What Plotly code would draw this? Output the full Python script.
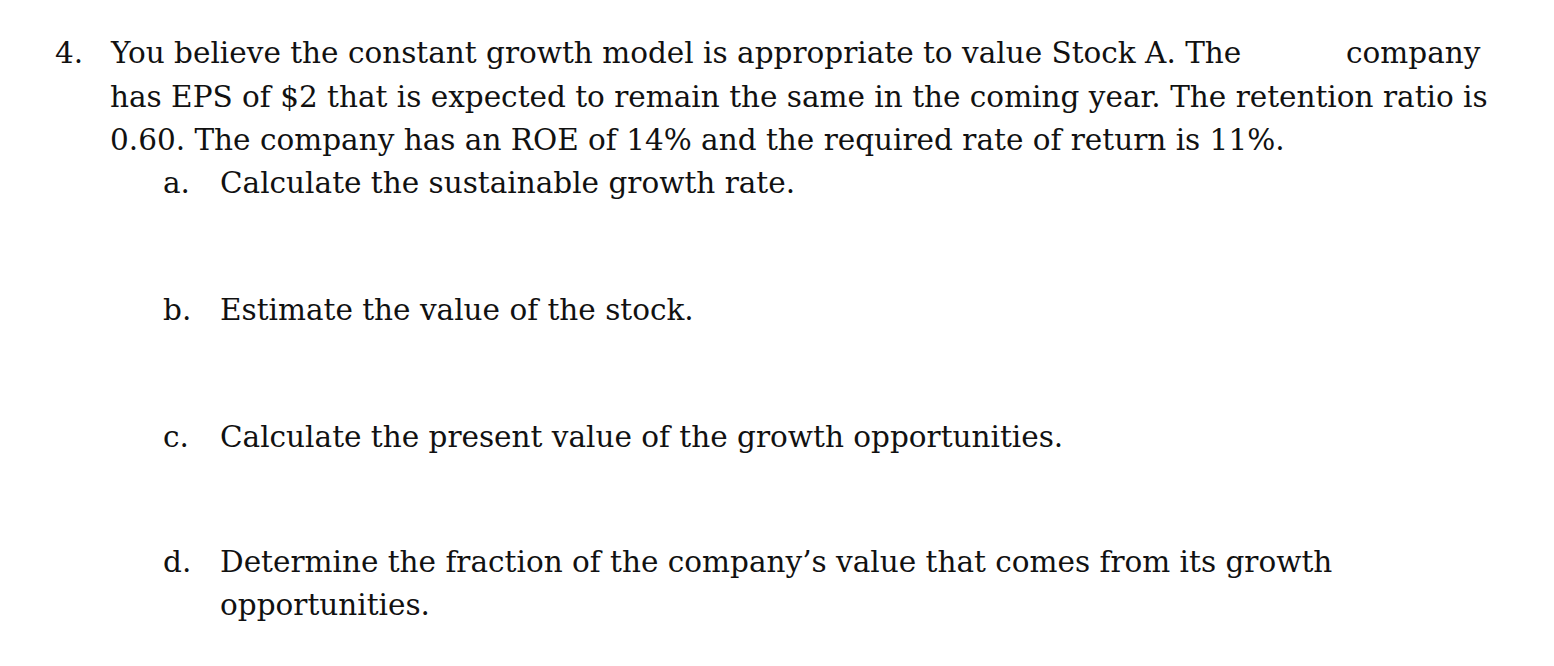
import plotly.graph_objects as go

labels = ["4.", "", "", "a.", "b.", "c.", "d.", ""]
texts = [
    "You believe the constant growth model is appropriate to value Stock A. The",
    "has EPS of $2 that is expected to remain the same in the coming year. The retention ratio is",
    "0.60. The company has an ROE of 14% and the required rate of return is 11%.",
    "Calculate the sustainable growth rate.",
    "Estimate the value of the stock.",
    "Calculate the present value of the growth opportunities.",
    "Determine the fraction of the company\u2019s value that comes from its growth",
    "opportunities.",
]
extra_word = "company"
line_y = [45, 89, 132, 175, 302, 429, 554, 597]
label_x = [45, 0, 0, 153, 153, 153, 153, 0]
text_x = [100, 100, 100, 210, 210, 210, 210, 210]

FONT = dict(family="DejaVu Serif", size=29.5, color="#111111")
fig = go.Figure()
ann = []
for lab, t, y, lx, tx in zip(labels, texts, line_y, label_x, text_x):
    if lab:
        ann.append(dict(x=lx, y=y, text=lab, xref="x", yref="y", showarrow=False,
                        xanchor="left", yanchor="middle", font=FONT))
    ann.append(dict(x=tx, y=y, text=t, xref="x", yref="y", showarrow=False,
                    xanchor="left", yanchor="middle", font=FONT))
ann.append(dict(x=1475, y=line_y[0], text=extra_word, xref="x", yref="y", showarrow=False,
                xanchor="right", yanchor="middle", font=FONT))
fig.update_layout(width=1554, height=666, margin=dict(l=0, r=0, t=0, b=0),
                  plot_bgcolor="white", paper_bgcolor="white", annotations=ann,
                  xaxis=dict(range=[0, 1554], visible=False),
                  yaxis=dict(range=[666, 0], visible=False))
fig.write_html("out.html")
